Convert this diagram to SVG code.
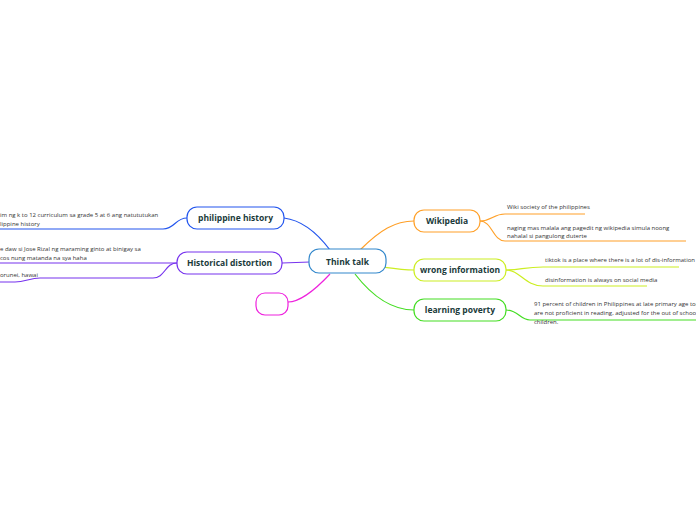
<svg xmlns="http://www.w3.org/2000/svg" width="696" height="520" viewBox="0 0 696 520">
<style>
text{font-family:"Open Sans","Noto Sans",sans-serif}
.b{font-weight:bold;font-size:8.5px;fill:#1a3a3a;text-anchor:middle}
.s{font-size:6px;fill:#333}
.c{fill:none;stroke-width:1.2}
.n{fill:#fff;stroke-width:1.2}
</style>
<rect width="696" height="520" fill="#fff"/>
<g id="connectors">
<path class="c" stroke="#2255ee" d="M330 250 C315 230 300 220 284 218"/>
<path class="c" stroke="#7733ee" d="M310 262 L282 263"/>
<path class="c" stroke="#ee22dd" d="M330 274 C315 290 300 302 288 302"/>
<path class="c" stroke="#ffa028" d="M360 250 C380 230 395 221 414 221"/>
<path class="c" stroke="#ccee22" d="M374 266 C390 268 400 270 414 270"/>
<path class="c" stroke="#44dd22" d="M355 274 C375 300 395 310 414 310"/>
<path class="c" stroke="#2255ee" stroke-width="1" d="M187 218 C175 218 175 229 163 229 L0 229"/>
<path class="c" stroke="#7733ee" stroke-width="1" d="M177 263 L153 263 L0 263"/>
<path class="c" stroke="#7733ee" stroke-width="1" d="M177 263 C165 263 165 278 153 278 L40 278 C30 278 25 282 15 282 L0 282"/>
<path class="c" stroke="#ffa028" stroke-width="1" d="M480 221 C492 221 493 214 505 214 L585 214"/>
<path class="c" stroke="#ffa028" stroke-width="1" d="M480 221 C492 221 493 241 505 241 L686 241"/>
<path class="c" stroke="#ccee22" stroke-width="1" d="M506 270 C520 270 525 267 543 267 L679 267"/>
<path class="c" stroke="#ccee22" stroke-width="1" d="M506 270 C520 270 525 286 543 286 L647 286"/>
<path class="c" stroke="#44dd22" stroke-width="1" d="M506 310 C518 310 520 320 530 320 L696 320"/>
</g>
<g id="center"><rect class="n" x="309" y="249" width="77" height="24" rx="10" stroke="#3388cc"/><text class="b" x="347.5" y="265" font-size="10">Think talk</text></g>
<g id="n1"><rect class="n" x="187" y="207" width="97" height="22" rx="10" stroke="#2255ee"/><text class="b" x="235.5" y="221">philippine history</text></g>
<g id="n2"><rect class="n" x="177" y="252" width="105" height="22" rx="10" stroke="#7733ee"/><text class="b" x="229.5" y="266">Historical distortion</text></g>
<g id="n3"><rect class="n" x="256" y="293" width="32" height="22" rx="9" stroke="#ee22dd"/></g>
<g id="n4"><rect class="n" x="414" y="210" width="66" height="22" rx="10" stroke="#ffa028"/><text class="b" x="447" y="224">Wikipedia</text></g>
<g id="n5"><rect class="n" x="414" y="259" width="92" height="22" rx="10" stroke="#ccee22"/><text class="b" x="460" y="273">wrong information</text></g>
<g id="n6"><rect class="n" x="414" y="299" width="92" height="22" rx="10" stroke="#44dd22"/><text class="b" x="460" y="313">learning poverty</text></g>
<g id="texts">
<text class="s" x="0" y="217">im ng k to 12 curriculum sa grade 5 at 6 ang natututukan</text>
<text class="s" x="0" y="226">lippine history</text>
<text class="s" x="0" y="251">e daw si Jose Rizal ng maraming ginto at binigay sa</text>
<text class="s" x="0" y="260">cos nung matanda na sya haha</text>
<text class="s" x="0" y="277">orunei, hawai</text>
<text class="s" x="507" y="209">Wiki society of the philippines</text>
<text class="s" x="507" y="230">naging mas malala ang pagedit ng wikipedia simula noong</text>
<text class="s" x="507" y="238">nahalal si pangulong duterte</text>
<text class="s" x="545" y="262">tiktok is a place where there is a lot of dis-information</text>
<text class="s" x="545" y="282">disinformation is always on social media</text>
<text class="s" x="534" y="306">91 percent of children in Philippines at late primary age today</text>
<text class="s" x="534" y="315">are not proficient in reading, adjusted for the out of school</text>
<text class="s" x="534" y="324">children.</text>
</g>
</svg>
